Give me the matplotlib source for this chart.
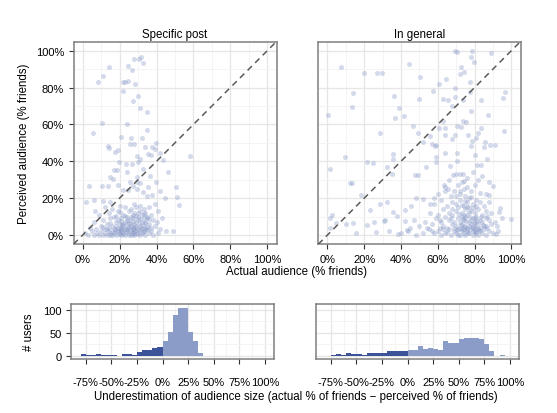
import numpy as np
import matplotlib
matplotlib.use("Agg")
import matplotlib.pyplot as plt
from matplotlib.ticker import FixedLocator

plt.rcParams["font.family"] = ["Liberation Sans", "DejaVu Sans"]
plt.rcParams["axes.unicode_minus"] = False

# ---- data (percent of friends) ----
# specific post: (actual, perceived)
post_points = [
    (31.6, 96.7), (30.7, 95.5), (27.8, 95.5), (32.9, 93.1), (24.7, 91.9), (14.1, 91.0),
    (26.5, 89.7), (10.8, 86.1), (8.1, 82.8), (22.0, 82.8), (23.1, 82.8), (24.3, 83.4),
    (28.2, 81.9), (22.0, 78.0), (30.1, 75.6), (27.4, 72.7), (30.9, 68.7), (34.7, 66.5),
    (10.3, 60.8), (24.2, 60.4), (5.4, 55.5), (35.0, 56.8), (20.8, 53.0), (26.0, 52.6),
    (31.9, 52.4), (39.9, 49.9), (13.7, 48.5), (14.1, 47.0), (19.1, 46.3), (17.7, 44.8),
    (25.8, 49.4), (28.0, 49.4), (33.6, 47.6), (37.4, 47.9), (39.2, 46.7), (41.7, 44.5),
    (58.1, 43.0), (29.2, 42.7), (31.0, 41.2), (35.2, 43.9), (36.8, 43.4), (43.7, 40.9),
    (19.5, 39.4), (23.6, 38.3), (26.7, 38.3), (30.1, 39.8), (17.0, 35.3), (18.4, 35.3),
    (46.4, 34.4), (23.8, 34.0), (32.9, 35.8), (3.6, 26.8), (10.6, 26.8), (13.5, 26.8),
    (19.3, 27.1), (25.5, 28.6), (29.4, 28.9), (39.9, 28.6), (22.0, 24.6), (24.7, 24.4),
    (29.2, 25.0), (35.6, 25.9), (32.9, 23.1), (37.4, 21.9), (50.5, 25.9), (1.8, 17.7),
    (6.1, 18.8), (10.8, 18.6), (6.9, 13.2), (44.6, 19.9), (50.9, 20.4), (52.3, 16.3),
    (48.7, 2.4), (14.8, 31.3), (29.2, 31.3), (36.5, 32.2), (27.4, 26.8), (31.0, 28.2),
    (16.6, 30.4), (41.9, 24.0), (34.7, 21.3), (14.8, 17.7),
    (1, 1), (3, 0), (5, 2), (6, 0), (8, 1), (9, 0), (10, 2), (11, 0), (12, 1), (13, 0),
    (14, 2), (15, 1), (16, 0), (17, 1), (18, 0), (19, 2), (20, 1), (21, 0), (22, 1), (23, 0),
    (24, 2), (25, 1), (26, 0), (27, 1), (28, 0), (29, 2), (30, 1), (31, 0), (32, 1), (33, 2),
    (34, 0), (36, 1), (38, 0), (41, 1), (45, 2), (18, 2), (21, 2), (25, 0), (28, 2), (15, 0),
    (4, 4), (7, 3), (10, 5), (12, 3), (14, 4), (16, 5), (17, 3), (19, 4), (20, 3), (22, 5),
    (23, 3), (25, 4), (26, 5), (28, 3), (29, 5), (30, 3), (32, 4), (33, 5), (35, 3), (37, 4),
    (39, 5), (42, 3), (18, 5), (21, 4), (24, 3), (27, 4), (31, 5),
    (6, 7), (11, 8), (13, 6), (15, 9), (18, 7), (20, 6), (21, 9), (23, 7), (24, 8), (26, 6),
    (27, 9), (29, 7), (30, 8), (31, 6), (33, 9), (34, 7), (36, 6), (38, 8), (40, 7), (43, 9),
    (22, 6), (25, 8), (28, 6), (32, 7), (35, 9),
    (9, 11), (14, 12), (17, 10), (19, 13), (22, 11), (24, 10), (25, 13), (27, 11), (28, 12),
    (30, 10), (31, 13), (32, 11), (34, 12), (35, 10), (37, 11), (41, 13),
    (12, 15), (16, 14), (20, 16), (23, 15), (26, 14), (28, 17), (29, 15), (31, 16), (33, 14),
    (36, 15), (39, 17),
    (16.5, 1.5), (17.5, 3.5), (19.5, 0.5), (20.5, 2.5), (21.5, 5.5), (22.5, 3.5), (23.5, 1.5),
    (24.5, 4.5), (25.5, 2.5), (26.5, 1.5), (27.5, 3.0), (28.5, 4.5), (29.5, 0.5), (30.5, 2.5),
    (31.5, 3.5), (32.5, 1.5), (33.5, 6.5), (34.5, 2.5), (35.5, 4.5), (19.0, 8.0), (21.0, 7.5),
    (23.0, 10.5), (25.0, 6.5), (27.0, 7.5), (29.0, 10.5), (31.0, 8.5), (33.0, 11.5),
    (26.0, 9.5), (30.0, 12.0), (18.0, 10.5), (20.0, 12.5), (34.0, 4.0), (36.0, 8.5),
    (37.0, 2.0), (22.0, 0.5), (28.0, 0.5), (24.0, 6.0), (15.0, 6.5), (13.0, 3.0), (11.0, 4.5),
]

# in general: (actual, perceived)
general_points = [
    (69.6, 100), (70.5, 99.1), (78.8, 100), (88.8, 98.7), (78.0, 96.4), (79.6, 93.7),
    (7.2, 91.3), (44.3, 92.6), (72.9, 91.3), (20.1, 87.7), (27.1, 87.7), (29.7, 88.1),
    (72.0, 87.3), (74.0, 88.6), (50.3, 85.9), (64.7, 84.6), (60.9, 81.7), (77.4, 82.8),
    (69.6, 79.6), (96.7, 77.8), (14.0, 77.2), (57.5, 78.1), (62.6, 73.8), (65.6, 73.4),
    (69.6, 74.7), (73.8, 73.2), (77.4, 77.4), (83.7, 73.2), (95.5, 74.3), (36.2, 75.6),
    (49.9, 73.8), (13.4, 69.6), (38.9, 69.1), (0.5, 65.1), (36.7, 63.5), (41.8, 64.6),
    (67.5, 70.2), (78.3, 67.5), (87.3, 65.1), (73.8, 62.0), (75.6, 61.5), (62.9, 62.0),
    (46.7, 59.0), (60.8, 57.9), (64.0, 57.9), (70.7, 59.0), (72.9, 58.8), (83.4, 58.0),
    (95.8, 56.4), (28.8, 55.3), (49.4, 55.2), (55.7, 53.9), (63.9, 54.2), (69.6, 54.2),
    (76.5, 54.2), (81.9, 55.2), (52.1, 50.3), (56.6, 49.4), (58.4, 48.1), (59.3, 49.0),
    (67.8, 52.1), (78.8, 51.2), (81.0, 52.4), (85.9, 50.3), (88.2, 49.0), (91.3, 48.6),
    (84.9, 47.6), (78.3, 48.1), (9.6, 42.1), (35.8, 44.1), (64.0, 44.3), (70.5, 44.5),
    (80.1, 43.4), (87.0, 41.2), (59.3, 42.5), (1.4, 35.8), (21.7, 39.8), (24.8, 38.9),
    (35.8, 41.2), (32.2, 36.7), (35.0, 33.1), (47.6, 32.5), (49.2, 32.5), (53.5, 36.7),
    (59.2, 39.4), (66.9, 37.6), (70.5, 40.3), (81.6, 38.0), (83.4, 38.0), (84.1, 32.2),
    (68.4, 32.5), (72.0, 32.9), (73.8, 33.1), (12.3, 28.0), (13.5, 28.0), (18.3, 21.9),
    (23.1, 13.6), (28.6, 16.8), (31.3, 8.1), (32.2, 17.7), (35.8, 12.7), (38.0, 10.5),
    (42.1, 13.6), (45.4, 15.9), (47.9, 19.9), (52.1, 19.5), (55.7, 16.8), (57.9, 20.3),
    (63.5, 27.3), (63.8, 23.7), (65.6, 25.0), (87.9, 28.6), (90.1, 26.8), (87.7, 21.9),
    (93.9, 14.5), (93.3, 12.3), (99.6, 8.7), (91.5, 0.5), (2.4, 10.8), (1.1, 9.2),
    (1.1, 3.8), (4.5, 6.5), (9.9, 6.0), (14.1, 6.3), (15.6, 1.3), (21.3, 5.6),
    (25.3, 6.9), (26.4, 1.4), (30.7, 7.8), (33.6, 2.0), (38.5, 0.7), (42.1, 7.4), (43.4, 2.5),
    (40, 1), (44, 2), (48, 0), (52, 1), (55, 3), (58, 1), (60, 2), (62, 0), (64, 1), (66, 3),
    (67, 0), (69, 2), (70, 1), (71, 3), (72, 0), (73, 2), (74, 1), (75, 0), (76, 2), (77, 1),
    (78, 3), (79, 0), (80, 2), (81, 1), (82, 0), (83, 2), (84, 1), (85, 3), (86, 0), (88, 2),
    (90, 1), (93, 2), (71, 0), (76, 3), (79, 2), (82, 3),
    (45, 4), (50, 5), (54, 4), (57, 6), (61, 4), (63, 5), (65, 4), (68, 6), (70, 5), (72, 4),
    (73, 6), (75, 5), (76, 4), (78, 6), (79, 4), (80, 5), (82, 6), (83, 4), (85, 5), (87, 4),
    (89, 6), (92, 5), (74, 3), (77, 5), (81, 4),
    (47, 8), (53, 7), (59, 9), (62, 7), (64, 10), (66, 8), (69, 7), (71, 9), (72, 7), (74, 8),
    (75, 10), (77, 7), (79, 9), (80, 7), (81, 10), (83, 8), (84, 7), (86, 9), (88, 8), (91, 7),
    (95, 9), (73, 10), (78, 8),
    (56, 12), (60, 11), (63, 14), (66, 12), (68, 11), (70, 13), (71, 15), (73, 12), (75, 14),
    (76, 11), (78, 13), (80, 12), (82, 14), (84, 11), (86, 13), (89, 12), (77, 15), (74, 11),
    (58, 17), (62, 19), (65, 16), (68, 18), (70, 17), (72, 19), (74, 16), (76, 18), (77, 20),
    (79, 17), (81, 19), (85, 16), (88, 18),
    (60, 22), (64, 26), (67, 21), (69, 24), (71, 27), (72, 22), (74, 25), (75, 21), (78, 24),
    (80, 27), (83, 23), (86, 22),
    (66, 30), (70, 33), (73, 29), (76, 31), (79, 34), (82, 30),
    (70.5, 2.5), (72.5, 5.5), (73.5, 8.5), (74.5, 4.5), (75.5, 7.5), (76.5, 1.0), (77.5, 9.5),
    (78.5, 4.5), (79.5, 6.5), (80.5, 1.5), (81.5, 7.5), (82.5, 2.5), (83.5, 9.5), (84.5, 5.5),
    (71.5, 11.5), (73.0, 16.5), (75.0, 18.5), (77.0, 12.5), (79.0, 14.5), (81.0, 16.0),
    (83.0, 18.0), (72.0, 24.0), (76.0, 26.0), (78.0, 20.5), (68.0, 14.0), (67.0, 9.0),
    (65.0, 1.5), (69.0, 4.0), (86.0, 5.0), (87.0, 10.5), (74.0, 29.5), (70.0, 21.0),
    (63.0, 3.0), (57.0, 2.0), (61.0, 8.0), (80.0, 9.0), (76.0, 15.0), (73.0, 3.5),
]

# histograms of (actual - perceived), 5% bins
under_bins = list(range(-80, 0, 5))
over_bins = list(range(0, 100, 5))
post_under = [5, 2, 2, 5, 2, 2, 2, 0, 4, 5, 3, 8, 12, 14, 18, 20]
post_over = [33, 52, 90, 104, 104, 52, 32, 6, 1, 1, 1, 1, 1, 1, 1, 1, 1, 1, 1, 1]
general_under = [1, 3, 5, 3, 7, 4, 5, 3, 6, 7, 7, 6, 10, 11, 11, 11]
general_over = [14, 12, 21, 15, 18, 15, 12, 32, 29, 29, 36, 39, 40, 40, 36, 27, 11, 1, 3, 1]

scatter_ticks = [0, 20, 40, 60, 80, 100]
scatter_labels = ["0%", "20%", "40%", "60%", "80%", "100%"]
hist_ticks = [-75, -50, -25, 0, 25, 50, 75, 100]
hist_labels = ["-75%", "-50%", "-25%", "0%", "25%", "50%", "75%", "100%"]
count_ticks = [0, 50, 100]

PT = "#8a9bc9"
LIGHT = "#8b9cc9"
DARK = "#3d5399"

W, H = 557, 414
fig = plt.figure(figsize=(W / 100, H / 100), dpi=100)


def rect(l, r, t, b):
    return [l / W, 1 - b / H, (r - l) / W, (b - t) / H]


def style(ax, left_ticks=True, pad_x=3.5):
    for s in ax.spines.values():
        s.set_color("#7f7f7f")
        s.set_linewidth(1.1)
    ax.set_axisbelow(True)
    ax.grid(True, which="major", color="#e6e6e6", lw=0.9)
    ax.grid(True, which="minor", color="#f3f3f3", lw=0.6)
    ax.tick_params(which="major", color="#333333", length=3.6, width=0.8,
                   labelsize=8, pad=3.2)
    ax.tick_params(axis="x", pad=pad_x)
    ax.tick_params(which="minor", length=0)
    ax.tick_params(top=False, right=False)
    if not left_ticks:
        ax.tick_params(axis="y", left=False, labelleft=False)


def scatter_panel(ax, pts, title, left_ticks):
    pts = np.array(pts, dtype=float)
    ax.scatter(pts[:, 0], pts[:, 1], s=13, color=PT, alpha=0.36, linewidths=0, zorder=2)
    ax.plot([-5, 105], [-5, 105], ls=(0, (4, 3)), color="#5a5a5a", lw=1.1, zorder=3)
    ax.set_xlim(-5, 105)
    ax.set_ylim(-5, 105)
    ax.xaxis.set_major_locator(FixedLocator(scatter_ticks))
    ax.yaxis.set_major_locator(FixedLocator(scatter_ticks))
    ax.xaxis.set_minor_locator(FixedLocator([10, 30, 50, 70, 90]))
    ax.yaxis.set_minor_locator(FixedLocator([10, 30, 50, 70, 90]))
    ax.set_xticklabels(scatter_labels)
    ax.set_yticklabels(scatter_labels)
    style(ax, left_ticks)
    ax.set_title(title, fontsize=8.3, pad=3)


def hist_panel(ax, under, over, left_ticks):
    ax.bar(under_bins, under, width=5, align="edge", color=DARK, linewidth=0, zorder=2)
    ax.bar(over_bins, over, width=5, align="edge", color=LIGHT, linewidth=0, zorder=2)
    ax.set_xlim(-89.5, 109)
    ax.set_ylim(-5.5, 113)
    ax.xaxis.set_major_locator(FixedLocator(hist_ticks))
    ax.xaxis.set_minor_locator(FixedLocator([-62.5, -37.5, -12.5, 12.5, 37.5, 62.5, 87.5]))
    ax.yaxis.set_major_locator(FixedLocator(count_ticks))
    ax.yaxis.set_minor_locator(FixedLocator([25, 75]))
    ax.set_xticklabels(hist_labels)
    style(ax, left_ticks, pad_x=10)


ax1 = fig.add_axes(rect(73.5, 276.5, 42.5, 245.2))
ax2 = fig.add_axes(rect(318.3, 520.5, 42.5, 245.2))
ax3 = fig.add_axes(rect(71, 274, 305, 359.5))
ax4 = fig.add_axes(rect(316, 519, 305, 359.5))

scatter_panel(ax1, post_points, "Specific post", True)
scatter_panel(ax2, general_points, "In general", False)
hist_panel(ax3, post_under, post_over, True)
hist_panel(ax4, general_under, general_over, False)

ax1.set_ylabel("Perceived audience (% friends)", fontsize=8.3, labelpad=4)
ax3.set_ylabel("# users", fontsize=8.3, labelpad=6)
fig.text(297 / W, 1 - 272 / H, "Actual audience (% friends)", fontsize=8.3,
         ha="center", va="center")
fig.text(296 / W, 1 - 397 / H,
         "Underestimation of audience size (actual % of friends \u2212 perceived % of friends)",
         fontsize=8.3, ha="center", va="center")

fig.savefig("out.png", dpi=100)
